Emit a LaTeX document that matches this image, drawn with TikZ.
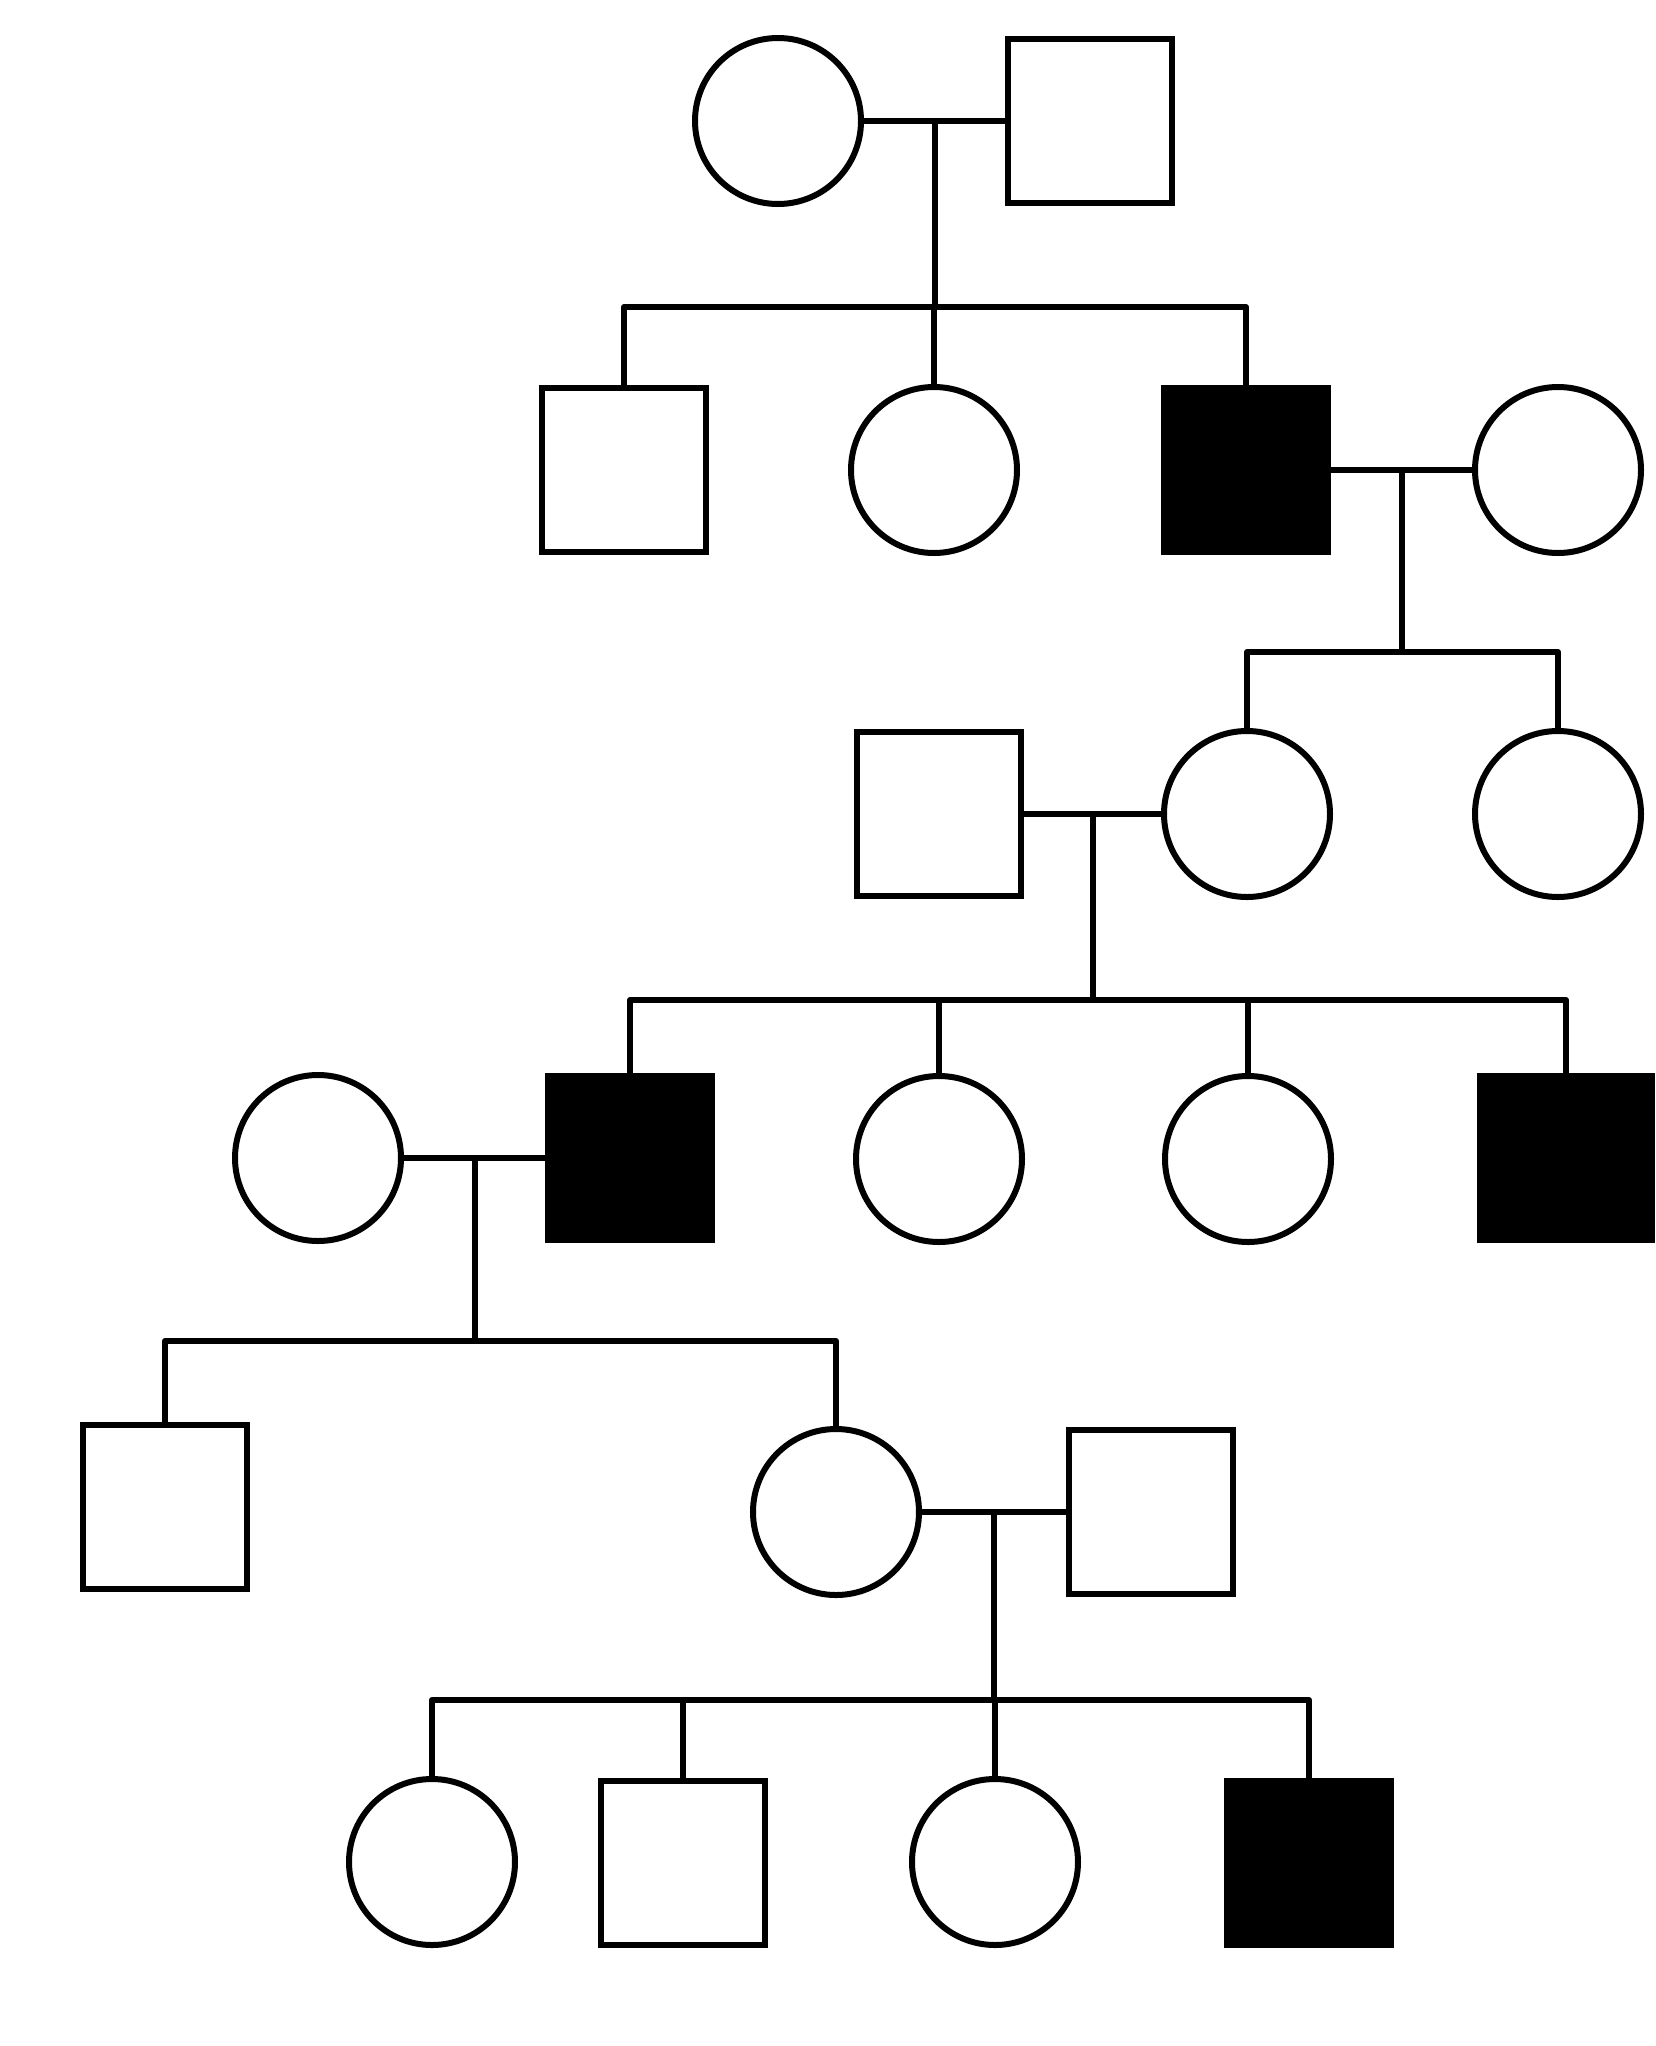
\documentclass[tikz,border=0pt]{standalone}
\usetikzlibrary{calc}
\begin{document}
\begin{tikzpicture}[x=1pt,y=-1pt,
  female/.style={circle,draw,line width=6pt,minimum size=166pt,inner sep=0pt,fill=white},
  male/.style={rectangle,draw,line width=6pt,minimum size=164pt,inner sep=0pt,fill=white},
  affected/.style={fill=black},
  link/.style={line width=6pt,line join=round}]
\path[use as bounding box,fill=white] (0,0) rectangle (1656,2046);
\clip (0,0) rectangle (1656,2046);
% generation 1
\node[female] (g1f) at (778,121) {};
\node[male] (g1m) at (1090,121) {};
% generation 2
\node[male] (g2a) at (624,470) {};
\node[female] (g2b) at (934,470) {};
\node[male,affected] (g2c) at (1246,470) {};
\node[female] (g2d) at (1558,470) {};
% generation 3
\node[male] (g3a) at (939,814) {};
\node[female] (g3b) at (1247,814) {};
\node[female] (g3c) at (1558,814) {};
% generation 4
\node[female] (g4a) at (318,1158) {};
\node[male,affected] (g4b) at (630,1158) {};
\node[female] (g4c) at (939,1159) {};
\node[female] (g4d) at (1248,1159) {};
\node[male,affected,minimum width=172pt] (g4e) at (1566,1158) {};
% generation 5
\node[male] (g5a) at (165,1507) {};
\node[female] (g5b) at (836,1512) {};
\node[male] (g5c) at (1151,1512) {};
% generation 6
\node[female] (g6a) at (432,1862) {};
\node[male] (g6b) at (683,1863) {};
\node[female] (g6c) at (995,1862) {};
\node[male,affected] (g6d) at (1309,1863) {};
% sibship levels
\coordinate (L1) at (0,307);
\coordinate (L2) at (0,652);
\coordinate (L3) at (0,1000);
\coordinate (L4) at (0,1341);
\coordinate (L5) at (0,1700);
% family 1
\draw[link] (g1f.east) -- (g1m.west);
\coordinate (m1) at ($(g1f.east)!0.5!(g1m.west)$);
\draw[link] (m1) -- (m1 |- L1);
\draw[link] (g2a.north) |- (m1 |- L1) -| (g2c.north);
\draw[link] (g2b.north) -- (g2b.north |- L1);
% family 2
\draw[link] (g2c.east) -- (g2d.west);
\coordinate (m2) at ($(g2c.east)!0.5!(g2d.west)$);
\draw[link] (m2) -- (m2 |- L2);
\draw[link] (g3b.north) |- (m2 |- L2) -| (g3c.north);
% family 3
\draw[link] (g3a.east) -- (g3b.west);
\coordinate (m3) at ($(g3a.east)!0.5!(g3b.west)$);
\draw[link] (m3) -- (m3 |- L3);
\draw[link] (g4b.north) |- (m3 |- L3) -| (g4e.north);
\draw[link] (g4c.north) -- (g4c.north |- L3);
\draw[link] (g4d.north) -- (g4d.north |- L3);
% family 4
\draw[link] (g4a.east) -- (g4b.west);
\coordinate (m4) at ($(g4a.east)!0.5!(g4b.west)$);
\draw[link] (m4) -- (m4 |- L4);
\draw[link] (g5a.north) |- (m4 |- L4) -| (g5b.north);
% family 5
\draw[link] (g5b.east) -- (g5c.west);
\coordinate (m5) at ($(g5b.east)!0.5!(g5c.west)$);
\draw[link] (m5) -- (m5 |- L5);
\draw[link] (g6a.north) |- (m5 |- L5) -| (g6d.north);
\draw[link] (g6b.north) -- (g6b.north |- L5);
\draw[link] (g6c.north) -- (g6c.north |- L5);
\end{tikzpicture}
\end{document}
